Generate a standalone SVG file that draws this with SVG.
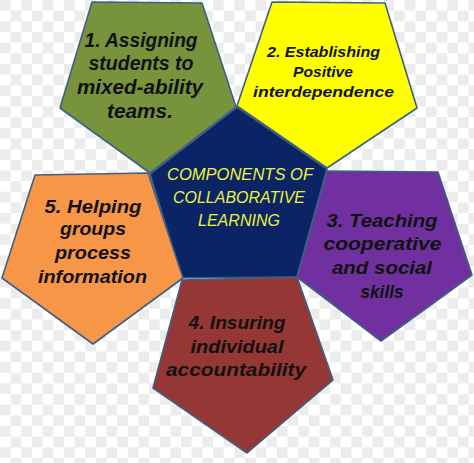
<svg xmlns="http://www.w3.org/2000/svg" width="474" height="463" viewBox="0 0 474 463">
<defs>
<pattern id="chk" width="21.3" height="21.3" patternUnits="userSpaceOnUse">
<rect width="21.3" height="21.3" fill="#ffffff"/>
<rect x="0" y="0" width="10.65" height="10.65" fill="#ececec"/>
<rect x="10.65" y="10.65" width="10.65" height="10.65" fill="#ececec"/>
</pattern>
<style>
.pent{stroke:#3f5f86;stroke-width:1.6;stroke-linejoin:round}
.lbl{font-family:"Liberation Sans",Arial,sans-serif;font-weight:bold;font-style:italic;fill:#111111;text-anchor:middle}
.ctr{font-family:"Liberation Sans",Arial,sans-serif;font-style:italic;fill:#ecf23c;text-anchor:middle;font-size:16.5px}
</style>
</defs>
<rect width="474" height="463" fill="url(#chk)"/>
<g id="node-center">
<polygon class="pent" fill="#0b2466" points="237,107 327,169 297,277 182,278 150,174"/>
<text class="ctr" x="240" y="180" textLength="146" lengthAdjust="spacingAndGlyphs">COMPONENTS OF</text>
<text class="ctr" x="239" y="203" textLength="132" lengthAdjust="spacingAndGlyphs">COLLABORATIVE</text>
<text class="ctr" x="239" y="226" textLength="82" lengthAdjust="spacingAndGlyphs">LEARNING</text>
</g>
<g id="node-1">
<polygon class="pent" fill="#77933c" points="92,2 202,3 236,107 150,173 60,108"/>
<text class="lbl" font-size="20" x="141" y="47" textLength="113" lengthAdjust="spacingAndGlyphs">1. Assigning</text>
<text class="lbl" font-size="20" x="141" y="70" textLength="105" lengthAdjust="spacingAndGlyphs">students to</text>
<text class="lbl" font-size="20" x="140" y="94" textLength="126" lengthAdjust="spacingAndGlyphs">mixed-ability</text>
<text class="lbl" font-size="20" x="140" y="118" textLength="66" lengthAdjust="spacingAndGlyphs">teams.</text>
</g>
<g id="node-2">
<polygon class="pent" fill="#ffff00" points="272,2 385,3 417,108 327,168 237,106"/>
<text class="lbl" font-size="15.5" x="323.5" y="57" textLength="113" lengthAdjust="spacingAndGlyphs">2. Establishing</text>
<text class="lbl" font-size="15.5" x="323" y="77" textLength="60" lengthAdjust="spacingAndGlyphs">Positive</text>
<text class="lbl" font-size="15.5" x="323.5" y="97" textLength="141" lengthAdjust="spacingAndGlyphs">interdependence</text>
</g>
<g id="node-3">
<polygon class="pent" fill="#7030a0" points="327,171 438,172 472,275 381,341 297,277"/>
<text class="lbl" font-size="19" x="382" y="227" textLength="111" lengthAdjust="spacingAndGlyphs">3. Teaching</text>
<text class="lbl" font-size="19" x="382.5" y="250" textLength="118" lengthAdjust="spacingAndGlyphs">cooperative</text>
<text class="lbl" font-size="19" x="382" y="274" textLength="100" lengthAdjust="spacingAndGlyphs">and social</text>
<text class="lbl" font-size="19" x="382" y="298" textLength="43" lengthAdjust="spacingAndGlyphs">skills</text>
</g>
<g id="node-4">
<polygon class="pent" fill="#953735" points="182,280 297,277 333,380 247,453 153,388"/>
<text class="lbl" font-size="19" x="237" y="329" textLength="97" lengthAdjust="spacingAndGlyphs">4. Insuring</text>
<text class="lbl" font-size="19" x="237" y="353" textLength="93" lengthAdjust="spacingAndGlyphs">individual</text>
<text class="lbl" font-size="19" x="236" y="376" textLength="140" lengthAdjust="spacingAndGlyphs">accountability</text>
</g>
<g id="node-5">
<polygon class="pent" fill="#f79646" points="35,175 148,173 183,278 93,344 2,278"/>
<text class="lbl" font-size="19" x="93" y="213" textLength="97" lengthAdjust="spacingAndGlyphs">5. Helping</text>
<text class="lbl" font-size="19" x="93" y="235" textLength="66" lengthAdjust="spacingAndGlyphs">groups</text>
<text class="lbl" font-size="19" x="93" y="259" textLength="76" lengthAdjust="spacingAndGlyphs">process</text>
<text class="lbl" font-size="19" x="92.5" y="283" textLength="109" lengthAdjust="spacingAndGlyphs">information</text>
</g>
<g id="connectors"></g>
</svg>
